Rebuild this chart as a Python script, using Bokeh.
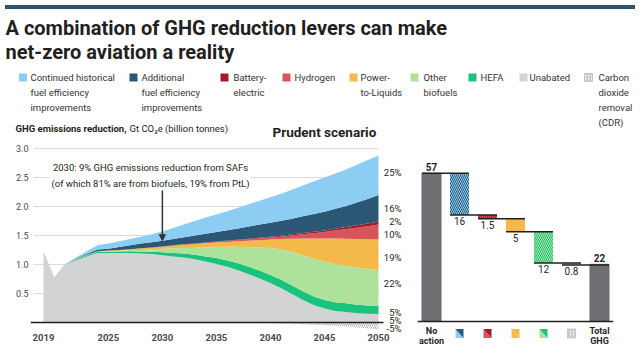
import numpy as np
from bokeh.plotting import figure
from bokeh.models import Range1d, FixedTicker, ColumnDataSource, Arrow, NormalHead, PrintfTickFormatter, Div
from bokeh.layouts import column, row
from bokeh.embed import file_html
from bokeh.resources import INLINE
from bokeh.core.properties import value

FONT = "Roboto"

# ---------------- data ----------------
years = list(range(2019, 2051))
unabated = [1.23, 0.78, 1.00, 1.07, 1.14, 1.20, 1.20, 1.20, 1.20, 1.19, 1.18, 1.16, 1.14, 1.12, 1.09, 1.05,
            1.01, 0.96, 0.90, 0.83, 0.76, 0.68, 0.59, 0.49, 0.39, 0.30, 0.24, 0.20, 0.18, 0.16, 0.15, 0.145]
hefa = [0, 0, 0.005, 0.01, 0.015, 0.02, 0.02, 0.025, 0.03, 0.035, 0.04, 0.05, 0.06, 0.07, 0.08, 0.09,
        0.10, 0.11, 0.12, 0.13, 0.135, 0.14, 0.145, 0.15, 0.15, 0.15, 0.15, 0.15, 0.15, 0.145, 0.145, 0.145]
other_biofuels = [0, 0, 0.005, 0.01, 0.01, 0.01, 0.01, 0.01, 0.015, 0.025, 0.04, 0.06, 0.08, 0.095, 0.12, 0.155,
                  0.19, 0.235, 0.285, 0.34, 0.40, 0.465, 0.525, 0.58, 0.62, 0.65, 0.66, 0.66, 0.65, 0.645, 0.63, 0.61]
ptl = [0, 0, 0, 0, 0, 0, 0.01, 0.015, 0.02, 0.03, 0.035, 0.04, 0.045, 0.055, 0.065, 0.075,
       0.08, 0.085, 0.095, 0.11, 0.125, 0.145, 0.18, 0.225, 0.29, 0.35, 0.40, 0.44, 0.465, 0.49, 0.51, 0.53]
hydrogen = [0, 0, 0, 0, 0, 0, 0, 0, 0, 0, 0, 0, 0.005, 0.005, 0.005, 0.005,
            0.01, 0.015, 0.02, 0.025, 0.03, 0.035, 0.04, 0.055, 0.07, 0.09, 0.11, 0.135, 0.165, 0.195, 0.225, 0.26]
battery = [0, 0, 0, 0, 0, 0, 0, 0, 0, 0, 0, 0, 0, 0.003, 0.004, 0.005,
           0.005, 0.007, 0.008, 0.01, 0.012, 0.015, 0.017, 0.02, 0.022, 0.025, 0.028, 0.032, 0.036, 0.04, 0.045, 0.05]
additional_eff = [0, 0, 0, 0.01, 0.015, 0.03, 0.03, 0.05, 0.065, 0.08, 0.09, 0.10, 0.11, 0.122, 0.136, 0.15,
                  0.165, 0.178, 0.192, 0.21, 0.228, 0.24, 0.258, 0.27, 0.288, 0.305, 0.322, 0.343, 0.364, 0.395, 0.425, 0.46]
continued_eff = [0, 0, 0, 0.02, 0.05, 0.07, 0.09, 0.10, 0.11, 0.12, 0.135, 0.16, 0.19, 0.22, 0.25, 0.28,
                 0.30, 0.33, 0.36, 0.385, 0.41, 0.44, 0.465, 0.50, 0.53, 0.56, 0.59, 0.61, 0.63, 0.65, 0.67, 0.68]
cdr = [0, 0, 0, 0, 0, 0, 0, 0, 0, 0, 0, 0, 0, 0, 0, 0,
       0, -0.002, -0.004, -0.007, -0.01, -0.014, -0.018, -0.023, -0.03, -0.038, -0.047, -0.058, -0.07, -0.085, -0.1, -0.12]

share_labels = ["25%", "16%", "2%", "10%", "19%", "22%", "5%", "5%", "-5%"]
year_ticks = [2019, 2025, 2030, 2035, 2040, 2045, 2050]
y_ticks = [0.5, 1.0, 1.5, 2.0, 2.5, 3.0]

legend_labels = ["Continued historical\nfuel efficiency\nimprovements", "Additional\nfuel efficiency\nimprovements",
                 "Battery-\nelectric", "Hydrogen", "Power-\nto-Liquids", "Other\nbiofuels", "HEFA", "Unabated",
                 "Carbon\ndioxide\nremoval\n(CDR)"]

wf_no_action = 57
wf_reductions = [16, 1.5, 5, 12, 0.8]
wf_total = 22
wf_labels = ["57", "16", "1.5", "5", "12", "0.8", "22"]

# ---------------- styles ----------------
C_CONT = "#8dcdf3"
C_ADD = "#2d5875"
C_BAT = "#a3192f"
C_H2 = "#d8545b"
C_PTL = "#f4b949"
C_OB = "#aee29a"
C_HEFA = "#19c37c"
C_UNAB = "#d2d3d5"
C_BAR = "#6d6e71"
C_TXT = "#231f20"
C_HATCH = "#9c9c9c"
C_RULE = "#2c5470"

legend_colors = [C_CONT, C_ADD, C_BAT, C_H2, C_PTL, C_OB, C_HEFA, C_UNAB, None]
legend_swatch_x = [18.5, 129, 220, 282, 349, 410, 468, 519, 584]
legend_text_x = [30, 141, 233, 294, 360, 423, 480, 529, 598]

W = 640

# ---------------- top rule (plain block) ----------------
rule = Div(text="", width=630, height=4, margin=(5, 5, 3, 5), styles={"background-color": C_RULE})
RULE_H = 12

# ---------------- header ----------------
HDR_BOT = 142
hdr = figure(width=W, height=HDR_BOT - RULE_H, x_range=Range1d(0, W), y_range=Range1d(HDR_BOT, RULE_H),
             output_backend="svg", toolbar_location=None, min_border=0,
             x_axis_location=None, y_axis_location=None)
hdr.grid.visible = False
hdr.outline_line_color = None

hdr.text(x=[5, 5], y=[27.5, 51.5], text=["A combination of GHG reduction levers can make", "net-zero aviation a reality"],
         text_font=value(FONT), text_font_size="20px", text_font_style="bold", text_color=C_TXT,
         text_baseline="middle")

for sx, col in zip(legend_swatch_x, legend_colors):
    if col is None:
        hdr.quad(left=sx, right=sx + 8, top=73, bottom=81, fill_color="white", line_color="#bbbbbb",
                 line_width=0.8, hatch_pattern="/", hatch_color=C_HATCH, hatch_scale=3, hatch_weight=0.8)
    else:
        hdr.quad(left=sx, right=sx + 8, top=73, bottom=81, fill_color=col, line_color=None)
hdr.text(x=legend_text_x, y=[71] * len(legend_labels), text=legend_labels, text_font=value(FONT),
         text_font_size="9.5px", text_color="#333333", text_baseline="top", text_line_height=1.37)

hdr.text(x=[15], y=[128], text=["GHG emissions reduction,"], text_font=value(FONT), text_font_size="9.5px",
         text_font_style="bold", text_color=C_TXT, text_baseline="middle")
hdr.text(x=[129], y=[128], text=["Gt CO\u2082e (billion tonnes)"], text_font=value(FONT), text_font_size="9.5px",
         text_color=C_TXT, text_baseline="middle")
hdr.text(x=[272], y=[131], text=["Prudent scenario"], text_font=value(FONT), text_font_size="13.5px",
         text_font_style="bold", text_color=C_TXT, text_baseline="middle")

# shared vertical layout of the lower row (frames from page y 146 to 345)
ROW_H = 219
B_TOP, B_BOT = 4, 16

# ---------------- left stacked area ----------------
LW = 408
px_yr = (378 - 43) / 31.0
x0 = 2019 - (43 - 30) / px_yr
x1 = 2050 + (404 - 378) / px_yr
px_u = (322 - 148) / 3.0
y1 = 3.0 + (148 - 146) / px_u
y0 = -(345 - 322) / px_u

left = figure(width=LW, height=ROW_H, x_range=Range1d(x0, x1), y_range=Range1d(y0, y1),
              output_backend="svg", toolbar_location=None,
              min_border_left=30, min_border_right=4, min_border_top=B_TOP, min_border_bottom=B_BOT)
left.outline_line_color = None
left.grid.visible = False
left.xaxis.ticker = FixedTicker(ticks=year_ticks)
left.yaxis.ticker = FixedTicker(ticks=y_ticks)
left.yaxis.formatter = PrintfTickFormatter(format="%.1f")
for ax in (left.xaxis[0], left.yaxis[0]):
    ax.axis_line_color = None
    ax.major_tick_line_color = None
    ax.minor_tick_line_color = None
    ax.major_tick_out = 0
    ax.major_tick_in = 0
    ax.major_label_text_font = FONT
    ax.major_label_text_color = "#4a4a4a"
left.xaxis.major_label_text_font_size = "9.5px"
left.xaxis.major_label_text_font_style = "bold"
left.xaxis.major_label_standoff = -12
left.yaxis.major_label_text_font_size = "9px"
left.yaxis.major_label_standoff = 2

left.segment(x0=[2019 - 10 / px_yr] * len(y_ticks), x1=[2050] * len(y_ticks), y0=y_ticks, y1=y_ticks,
             line_color="#dcdcdc", line_width=1)

src = ColumnDataSource(dict(year=years, unabated=unabated, hefa=hefa, other=other_biofuels, ptl=ptl,
                            hydrogen=hydrogen, battery=battery, add=additional_eff, cont=continued_eff, cdr=cdr))
stack_names = ["unabated", "hefa", "other", "ptl", "hydrogen", "battery", "add", "cont"]
stack_colors = [C_UNAB, C_HEFA, C_OB, C_PTL, C_H2, C_BAT, C_ADD, C_CONT]
left.varea_stack(stackers=stack_names, x="year", color=stack_colors, source=src)
left.varea(x="year", y1=0, y2="cdr", source=src, fill_color="white", hatch_pattern="/",
           hatch_color=C_HATCH, hatch_scale=4, hatch_weight=0.8)
left.segment(x0=[x0], x1=[2050 + 5 / px_yr], y0=[0], y1=[0], line_color=C_TXT, line_width=1.5)

# annotation
ann_x = 2019 + (150 - 43) / px_yr
left.text(x=[ann_x, ann_x], y=[(322 - 167) / px_u, (322 - 183) / px_u],
          text=["2030: 9% GHG emissions reduction from SAFs", "(of which 81% are from biofuels, 19% from PtL)"],
          text_font=value(FONT), text_font_size="9.5px", text_color=C_TXT, text_align="center",
          text_baseline="middle", background_fill_color="white", padding=2)
tip = sum(s[years.index(2030)] for s in [unabated, hefa, other_biofuels, ptl, hydrogen, battery, additional_eff])
left.add_layout(Arrow(end=NormalHead(size=6, fill_color="#333333", line_color="#333333"),
                      x_start=2030, y_start=(322 - 190) / px_u, x_end=2030, y_end=tip,
                      line_color="#333333", line_width=1.5))

# share labels at 2050
series_top_down = [continued_eff, additional_eff, battery, hydrogen, ptl, other_biofuels, hefa, unabated]
last_bottom_up = [s[-1] for s in reversed(series_top_down)]
cum = np.cumsum(last_bottom_up)
mids_bottom_up = cum - np.array(last_bottom_up) / 2
mids = list(mids_bottom_up[::-1]) + [cdr[-1] / 2]
label_y_offsets = [-3, 0, -2, 2, 3, -4, 3, 2, 3]
left.text(x=[2050] * len(share_labels), y=mids, text=share_labels, x_offset=23, y_offset=label_y_offsets,
          text_font=value(FONT), text_font_size="9.5px", text_color=C_TXT, text_align="right",
          text_baseline="middle")

# ---------------- right waterfall ----------------
RW = 232
wf_px = 2.6
wf = figure(width=RW, height=ROW_H, x_range=Range1d(0, 7),
            y_range=Range1d(-(345 - 321) / wf_px, (321 - 146) / wf_px),
            output_backend="svg", toolbar_location=None, x_axis_location=None, y_axis_location=None,
            min_border_left=9, min_border_right=27, min_border_top=B_TOP, min_border_bottom=B_BOT)
wf.grid.visible = False
wf.outline_line_color = None

BW = 0.68
levels = [wf_no_action]
for r in wf_reductions:
    levels.append(levels[-1] - r)
tops = [wf_no_action] + levels[:-1] + [wf_total]
bottoms = [0] + levels[1:] + [0]
xs = [i + 0.5 for i in range(7)]

wf.vbar(x=[xs[0], xs[6]], width=BW, top=[wf_no_action, wf_total], bottom=0, color=C_BAR)
bar_fill = [C_CONT, C_H2, C_PTL, C_OB, "white"]
bar_hatch = [C_ADD, C_BAT, None, C_HEFA, C_HATCH]
bar_pat = ["\\", "\\", " ", "\\", "/"]
for k in range(5):
    i = k + 1
    kw = dict(x=[xs[i]], width=BW, top=[tops[i]], bottom=[bottoms[i]], fill_color=bar_fill[k], line_color=None)
    if bar_hatch[k] is not None:
        kw.update(hatch_pattern=bar_pat[k], hatch_color=bar_hatch[k], hatch_scale=4, hatch_weight=1.0)
    wf.vbar(**kw)

conn_x0 = [xs[i] - BW / 2 for i in range(6)]
conn_x1 = [xs[i + 1] + BW / 2 for i in range(6)]
wf.segment(x0=conn_x0, x1=conn_x1, y0=levels, y1=levels, line_color=C_TXT, line_width=1.5)
wf.segment(x0=[0], x1=[7], y0=[0], y1=[0], line_color=C_TXT, line_width=1.5)

wf.text(x=[xs[0], xs[6]], y=[wf_no_action, wf_total], text=[wf_labels[0], wf_labels[6]], y_offset=-2,
        text_font=value(FONT), text_font_size="10px", text_font_style="bold", text_color=C_TXT,
        text_align="center", text_baseline="bottom")
wf.text(x=xs[1:6], y=bottoms[1:6], text=wf_labels[1:6], y_offset=2,
        text_font=value(FONT), text_font_size="10px", text_color=C_TXT,
        text_align="center", text_baseline="top")
wf.text(x=[xs[0], xs[6]], y=[0, 0], text=["No\naction", "Total\nGHG"], y_offset=4,
        text_font=value(FONT), text_font_size="9px", text_font_style="bold", text_color=C_TXT,
        text_align="center", text_baseline="top", text_line_height=1.05)

# icons under the middle bars
ux = 1 / 28.0
uy = 1 / wf_px
hw, hh = 4 * ux, 4.5 * uy
yc = -12 * uy
icon_light = [C_CONT, C_H2, C_PTL, C_OB]
icon_dark = [C_ADD, C_BAT, C_PTL, C_HEFA]
lx, ly, dx, dy = [], [], [], []
for k in range(4):
    cx = xs[k + 1]
    lx.append([cx - hw, cx - hw, cx + hw]); ly.append([yc - hh, yc + hh, yc - hh])
    dx.append([cx - hw, cx + hw, cx + hw]); dy.append([yc + hh, yc + hh, yc - hh])
wf.patches(xs=lx, ys=ly, fill_color=icon_light, line_color=None)
wf.patches(xs=dx, ys=dy, fill_color=icon_dark, line_color=None)
wf.quad(left=[xs[5] - hw], right=[xs[5] + hw], bottom=[yc - hh], top=[yc + hh], fill_color="white",
        line_color="#bbbbbb", line_width=0.8, hatch_pattern="/", hatch_color=C_HATCH, hatch_scale=3,
        hatch_weight=0.8)

layout = column(rule, hdr, row(left, wf))
open("out.html", "w").write(file_html(layout, INLINE))
